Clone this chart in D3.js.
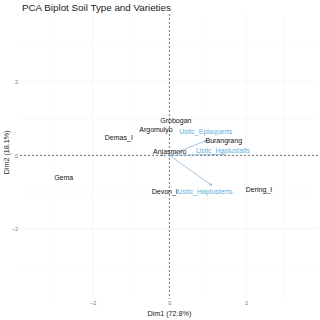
<!DOCTYPE html>
<html><head><meta charset="utf-8">
<script src="https://cdn.jsdelivr.net/npm/d3@7"></script>
<style>body{margin:0;background:#fff}svg{display:block}text{font-family:"Liberation Sans",Arial,sans-serif}</style>
</head><body><svg id="c" width="320" height="320"></svg>
<script>
const varieties = ["Grobogan","Argomulyo","Demas_I","Anjasmoro","Burangrang","Gema","Devon_I","Dering_I"];
const dim1 = [0.17,-0.35,-1.32,0.01,1.42,-2.76,-0.12,2.34];
const dim2 = [0.95,0.71,0.49,0.11,0.41,-0.60,-0.98,-0.93];
const soils = ["Ustic_Epiaquerts","Ustic_Haplustalfs","Ustic_Haplusterts"];
const soilX = [0.98,1.42,1.11];
const soilY = [0.41,0.03,-0.82];
const soilLabelX = [0.95,1.40,0.93];
const soilLabelY = [0.65,0.14,-0.98];
const ticks = [-2,0,2];
const title = "PCA Biplot Soil Type and Varieties";
const xTitle = "Dim1 (72.8%)", yTitle = "Dim2 (18.1%)";

const svg = d3.select("#c");
const x = d3.scaleLinear().domain([-3.9,3.88]).range([20,318]);
const y = d3.scaleLinear().domain([-3.92,3.86]).range([299,14]);

const grid = svg.append("g");
d3.range(-3,4).forEach(v=>{
  grid.append("line").attr("x1",x(v)).attr("x2",x(v)).attr("y1",14).attr("y2",299)
    .attr("stroke", v%2===0?"#ececec":"#f5f5f5").attr("stroke-width",0.5);
  grid.append("line").attr("y1",y(v)).attr("y2",y(v)).attr("x1",20).attr("x2",318)
    .attr("stroke", v%2===0?"#ececec":"#f5f5f5").attr("stroke-width",0.5);
});

svg.append("line").attr("x1",20).attr("x2",318).attr("y1",y(0)).attr("y2",y(0))
  .attr("stroke","#555").attr("stroke-width",0.8).attr("stroke-dasharray","2,2");
svg.append("line").attr("x1",x(0)).attr("x2",x(0)).attr("y1",14).attr("y2",299)
  .attr("stroke","#555").attr("stroke-width",0.8).attr("stroke-dasharray","2,2");

const xa = svg.append("g").attr("transform","translate(0,299)")
  .call(d3.axisBottom(x).tickValues(ticks).tickSize(0).tickPadding(2).tickFormat(d3.format("d")));
xa.select(".domain").remove();
xa.selectAll("text").attr("fill","#777").attr("font-size",5.6);
const ya = svg.append("g").attr("transform","translate(21,0)")
  .call(d3.axisLeft(y).tickValues(ticks).tickSize(0).tickPadding(3).tickFormat(d3.format("d")));
ya.select(".domain").remove();
ya.selectAll("text").attr("fill","#777").attr("font-size",5.6);

svg.append("text").attr("x",22).attr("y",11).attr("font-size",9.8).attr("fill","#222").text(title);
svg.append("text").attr("x",x(0)).attr("y",316).attr("text-anchor","middle").attr("font-size",7.2).attr("fill","#222").text(xTitle);
svg.append("text").attr("transform",`translate(9,${y(0)-3}) rotate(-90)`).attr("text-anchor","middle").attr("font-size",7.2).attr("fill","#222").text(yTitle);

const defs = svg.append("defs");
defs.append("marker").attr("id","ah").attr("viewBox","0 0 10 10").attr("refX",9).attr("refY",5)
  .attr("markerWidth",6).attr("markerHeight",6).attr("orient","auto")
  .append("path").attr("d","M0,1 L9,5 L0,9").attr("fill","none").attr("stroke","#5a9fcf").attr("stroke-width",1.3);

svg.append("g").selectAll("line").data(soils).join("line")
  .attr("x1",x(0)).attr("y1",y(0))
  .attr("x2",(d,i)=>x(soilX[i])).attr("y2",(d,i)=>y(soilY[i]))
  .attr("stroke","#5a9fcf").attr("stroke-width",0.6).attr("marker-end","url(#ah)");

svg.append("g").selectAll("text").data(soils).join("text")
  .attr("x",(d,i)=>x(soilLabelX[i])).attr("y",(d,i)=>y(soilLabelY[i]))
  .attr("text-anchor","middle").attr("dominant-baseline","central")
  .attr("font-size",7).attr("fill","#5fb0dc").text(d=>d);

svg.append("g").selectAll("text").data(varieties).join("text")
  .attr("x",(d,i)=>x(dim1[i])).attr("y",(d,i)=>y(dim2[i]))
  .attr("text-anchor","middle").attr("dominant-baseline","central")
  .attr("font-size",7).attr("fill","#111").text(d=>d);
</script></body></html>
